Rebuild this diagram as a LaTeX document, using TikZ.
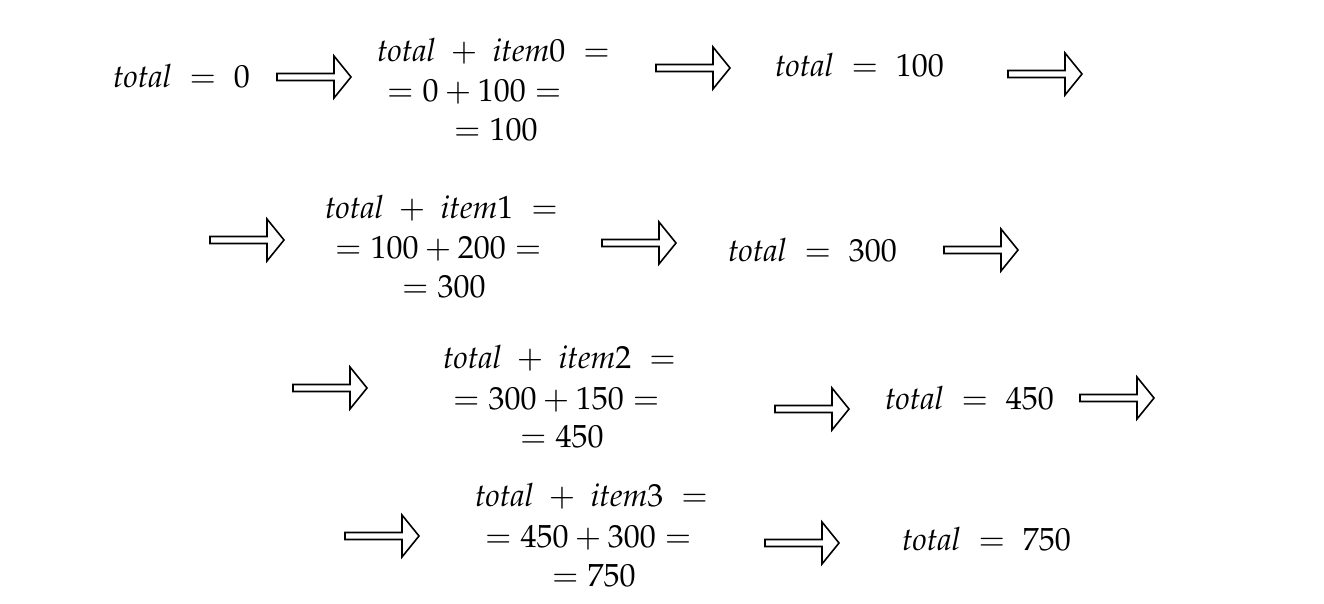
\documentclass[tikz,border=0pt]{standalone}
\usepackage{mathpazo}

\begin{document}
\begin{tikzpicture}[x=0.5pt,y=-0.5pt, every node/.style={inner sep=0pt, outer sep=0pt, anchor=base west, font=\fontsize{16}{20}\selectfont}]
    \tikzset{block arrow/.pic={
        \draw[line width=0.8pt, line join=miter] (0pt,-1.75pt) -- (28.5pt,-1.75pt) -- (28.5pt,-10.5pt) -- (37pt,0pt)
            -- (28.5pt,10.5pt) -- (28.5pt,1.75pt) -- (0pt,1.75pt) -- cycle;
    }}
    \useasboundingbox (0,0) rectangle (1324,604);

    % Draw the running totals
    \node (T-0) at (113,88) {$\mathit{total}\;=\;0$};
    \node (T-1) at (775,77) {$\mathit{total}\;=\;100$};
    \node (T-2) at (728,262) {$\mathit{total}\;=\;300$};
    \node (T-3) at (885,410) {$\mathit{total}\;=\;450$};
    \node (T-4) at (902,550) {$\mathit{total}\;=\;750$};

    % Draw the sums, three lines each
    \foreach \name / \x / \y / \a / \b / \c in {0/377/62/0/100/100, 1/325/219/100/200/300, 2/443/369/300/150/450, 3/475/507/450/300/750}
    {
        \node (E\name-1) at (\x,\y) {$\mathit{total}\;+\;\mathit{item}\name\;=$};
        \node (E\name-2) at (\x+10,\y+40) {$=\a+\b=$};
        \node (E\name-3) at (\x+77,\y+79) {$=\c$};
    }

    % Draw the arrows between the steps
    \foreach \name / \x / \y in {1/277/77, 2/656/68, 3/1008/74, 4/210/240, 5/602/243, 6/944/250, 7/293/388, 8/775/409, 9/1080/398, 10/345/536, 11/765/543}
        \pic (A-\name) at (\x,\y) {block arrow};

\end{tikzpicture}
\end{document}
